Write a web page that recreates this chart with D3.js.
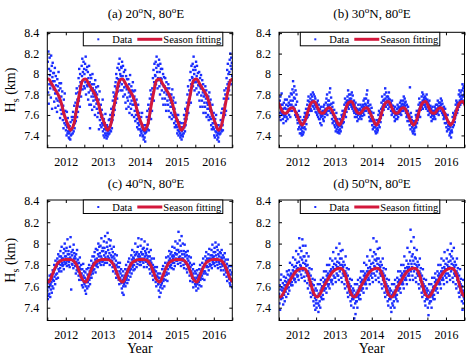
<!DOCTYPE html>
<html>
<head>
<meta charset="utf-8">
<script src="https://cdn.jsdelivr.net/npm/d3@7"></script>
<style>
  html, body { margin: 0; padding: 0; background: #fff; }
  svg { display: block; }
  text { font-family: "Liberation Serif", "Times New Roman", serif; fill: #000; }
</style>
</head>
<body>
<svg id="chart" width="474" height="357"></svg>
<script>
// ---------------- DATA ----------------
// Monthly groups of samples, first group = July 2011, last = June 2016
const startYear = 2011.5;
const xLabelYears = [2012, 2013, 2014, 2015, 2016];
const yTickValues = [7.4, 7.6, 7.8, 8.0, 8.2, 8.4];
const seriesNames = ["Data", "Season fitting"];
const panelTitles = [["(a) 20", "N, 80", "E"], ["(b) 30", "N, 80", "E"], ["(c) 40", "N, 80", "E"], ["(d) 50", "N, 80", "E"]];

// Season fitting, calendar months Jan..Dec (km)
const fitA = [7.52, 7.45, 7.50, 7.66, 7.82, 7.94, 7.95, 7.90, 7.85, 7.80, 7.72, 7.60];
const fitB = [7.55, 7.50, 7.55, 7.65, 7.72, 7.73, 7.67, 7.62, 7.62, 7.66, 7.67, 7.62];
const fitC = [7.85, 7.85, 7.84, 7.80, 7.73, 7.66, 7.64, 7.70, 7.77, 7.82, 7.84, 7.85];
const fitD = [7.76, 7.77, 7.76, 7.70, 7.60, 7.52, 7.50, 7.54, 7.60, 7.65, 7.70, 7.74];

const dataA = [
[7.95,8.12,7.82,8.22,7.71,8.05,7.90,8.16,7.99,7.86],[8.03,7.77,8.18,7.89,8.08,7.66,7.97,8.11,7.93,8.01],[7.85,8.01,7.73,7.93,8.06,7.81,7.67,7.98,7.89,7.76],
[7.81,7.63,7.95,7.74,7.88,7.69,8.02,7.84,7.78,7.91],[7.73,7.57,7.86,7.65,7.91,7.78,7.61,7.70,7.83,7.68],[7.55,7.69,7.47,7.75,7.61,7.52,7.81,7.58,7.64,7.50],
[7.45,7.53,7.40,7.63,7.48,7.42,7.57,7.44,7.50,7.38],[7.42,7.37,7.49,7.44,7.36,7.53,7.40,7.46,7.41,7.58],[7.46,7.55,7.42,7.63,7.50,7.44,7.58,7.69,7.47,7.52],
[7.61,7.72,7.54,7.81,7.66,7.86,7.58,7.75,7.69,7.63],[7.82,7.96,7.74,8.05,7.88,7.68,8.00,7.92,7.85,7.78],[7.91,8.08,7.98,8.15,7.85,8.02,7.94,8.12,7.88,8.05],
[8.00,7.86,8.10,7.92,8.17,7.80,8.04,7.95,7.89,8.07],[7.88,8.02,7.75,7.96,7.82,8.08,7.70,7.92,7.47,7.99],[7.84,7.70,7.96,7.78,7.90,7.65,8.00,7.86,7.81,7.74],
[7.78,7.90,7.68,7.84,7.60,7.94,7.75,7.82,7.87,7.71],[7.66,7.80,7.58,7.72,7.88,7.62,7.75,7.46,7.69,7.83],[7.55,7.62,7.50,7.70,7.58,7.48,7.65,7.52,7.60,7.75],
[7.44,7.50,7.40,7.56,7.46,7.38,7.52,7.42,7.61,7.47],[7.40,7.45,7.37,7.50,7.42,7.39,7.48,7.44,7.41,7.55],[7.48,7.42,7.56,7.45,7.60,7.50,7.44,7.66,7.53,7.47],
[7.62,7.55,7.74,7.68,7.82,7.60,7.78,7.70,7.65,7.88],[7.80,7.92,7.72,8.00,7.86,7.96,7.76,8.06,7.83,7.90],[7.95,8.10,7.88,8.04,8.15,7.92,8.00,7.84,7.98,8.07],
[8.06,7.90,8.12,7.84,7.98,8.08,7.78,7.94,8.02,7.87],[7.92,7.80,8.04,7.72,7.88,7.98,7.66,7.85,7.95,7.77],[7.86,7.74,7.95,7.68,7.82,7.90,7.62,7.78,7.99,7.71],
[7.80,7.66,7.88,7.74,7.60,7.84,7.70,7.92,7.77,7.83],[7.70,7.58,7.78,7.64,7.84,7.54,7.72,7.60,7.67,7.75],[7.56,7.48,7.64,7.52,7.70,7.46,7.58,7.50,7.62,7.54],
[7.46,7.40,7.52,7.44,7.58,7.42,7.48,7.62,7.45,7.39],[7.40,7.46,7.36,7.44,7.50,7.38,7.42,7.34,7.47,7.43],[7.50,7.44,7.58,7.48,7.64,7.46,7.55,7.70,7.52,7.45],
[7.66,7.58,7.76,7.62,7.84,7.70,7.56,7.80,7.73,7.64],[7.86,7.78,7.96,7.82,8.04,7.74,7.92,8.10,7.89,7.99],[7.98,8.12,7.90,8.06,8.17,7.94,8.02,7.86,8.09,7.96],
[8.08,7.94,8.14,7.88,8.02,7.80,8.10,7.96,8.05,7.91],[7.95,7.84,8.05,7.76,7.90,8.00,7.70,7.88,7.97,7.82],[7.88,7.76,7.96,7.70,7.84,7.64,7.92,7.80,7.86,7.74],
[7.82,7.70,7.90,7.64,7.78,7.86,7.58,7.75,7.80,7.68],[7.72,7.62,7.80,7.56,7.68,7.85,7.60,7.74,7.66,7.77],[7.58,7.52,7.66,7.48,7.62,7.72,7.54,7.50,7.60,7.56],
[7.48,7.42,7.55,7.45,7.60,7.40,7.50,7.44,7.53,7.47],[7.42,7.38,7.46,7.40,7.52,7.36,7.44,7.48,7.41,7.39],[7.46,7.52,7.42,7.60,7.48,7.56,7.44,7.66,7.50,7.58],
[7.64,7.56,7.72,7.60,7.80,7.68,7.88,7.62,7.75,7.70],[7.84,7.76,7.94,7.80,8.02,7.72,7.90,8.08,7.87,7.97],[7.96,8.10,7.88,8.04,8.17,7.92,8.00,7.84,8.07,7.95],
[8.04,7.92,8.12,7.86,7.98,8.08,7.80,7.94,8.01,7.89],[7.92,7.82,8.02,7.74,7.88,7.96,7.68,7.86,7.99,7.79],[7.86,7.74,7.94,7.68,7.82,7.90,7.62,7.78,7.84,7.72],
[7.80,7.68,7.88,7.62,7.76,7.84,7.58,7.72,7.79,7.66],[7.70,7.60,7.78,7.55,7.66,7.82,7.58,7.72,7.64,7.75],[7.56,7.50,7.64,7.46,7.60,7.70,7.52,7.48,7.58,7.62],
[7.46,7.40,7.52,7.38,7.56,7.44,7.48,7.60,7.43,7.50],[7.40,7.36,7.45,7.42,7.38,7.50,7.34,7.44,7.41,7.47],[7.48,7.42,7.55,7.46,7.62,7.44,7.52,7.66,7.50,7.45],
[7.66,7.58,7.76,7.62,7.84,7.70,7.60,7.80,7.72,7.64],[7.86,7.96,7.80,8.04,7.90,8.10,7.76,8.00,7.92,7.84],[8.02,8.14,7.94,8.20,8.08,7.90,8.16,8.05,8.11,7.98]
];

const dataB = [
[7.68,7.58,7.74,7.62,7.78,7.55,7.70,7.64,7.81,7.60],[7.62,7.70,7.56,7.66,7.52,7.72,7.60,7.58,7.67,7.75],[7.60,7.66,7.54,7.70,7.58,7.75,7.62,7.56,7.64,7.69],
[7.66,7.72,7.60,7.78,7.64,7.70,7.58,7.74,7.81,7.67],[7.70,7.80,7.64,7.85,7.74,7.93,7.68,7.82,7.77,7.88],[7.66,7.76,7.60,7.84,7.70,7.58,7.80,7.62,7.73,7.55],
[7.52,7.60,7.46,7.56,7.64,7.48,7.54,7.42,7.58,7.50],[7.46,7.42,7.52,7.40,7.48,7.44,7.55,7.41,7.47,7.43],[7.52,7.58,7.48,7.62,7.54,7.46,7.60,7.66,7.51,7.57],
[7.62,7.70,7.58,7.74,7.66,7.78,7.60,7.68,7.73,7.64],[7.70,7.76,7.66,7.80,7.72,7.64,7.78,7.74,7.69,7.82],[7.74,7.68,7.80,7.72,7.66,7.78,7.70,7.76,7.63,7.71],
[7.68,7.62,7.72,7.60,7.66,7.74,7.58,7.64,7.70,7.56],[7.62,7.56,7.66,7.52,7.60,7.68,7.58,7.50,7.63,7.59],[7.60,7.64,7.56,7.68,7.54,7.62,7.70,7.58,7.65,7.61],
[7.66,7.72,7.62,7.76,7.64,7.80,7.60,7.70,7.68,7.74],[7.68,7.74,7.64,7.82,7.70,7.86,7.66,7.62,7.77,7.71],[7.62,7.56,7.68,7.52,7.60,7.72,7.54,7.58,7.65,7.50],
[7.54,7.48,7.58,7.44,7.52,7.62,7.46,7.50,7.56,7.43],[7.48,7.43,7.52,7.45,7.50,7.42,7.56,7.46,7.49,7.44],[7.54,7.50,7.60,7.48,7.58,7.64,7.52,7.56,7.61,7.53],
[7.64,7.70,7.60,7.76,7.66,7.72,7.58,7.68,7.63,7.74],[7.72,7.78,7.68,7.84,7.74,7.66,7.80,7.70,7.76,7.71],[7.74,7.80,7.70,7.76,7.68,7.82,7.72,7.66,7.79,7.73],
[7.68,7.64,7.74,7.62,7.70,7.58,7.66,7.72,7.67,7.61],[7.62,7.58,7.66,7.54,7.64,7.60,7.70,7.56,7.61,7.65],[7.62,7.66,7.58,7.70,7.60,7.64,7.56,7.68,7.63,7.59],
[7.66,7.70,7.62,7.74,7.68,7.60,7.76,7.64,7.71,7.67],[7.70,7.76,7.64,7.80,7.68,7.84,7.66,7.72,7.74,7.69],[7.62,7.58,7.66,7.54,7.64,7.70,7.56,7.60,7.63,7.67],
[7.54,7.50,7.58,7.46,7.56,7.62,7.48,7.52,7.55,7.51],[7.48,7.44,7.52,7.42,7.50,7.46,7.55,7.43,7.47,7.45],[7.54,7.60,7.50,7.64,7.56,7.48,7.62,7.58,7.53,7.57],
[7.66,7.72,7.62,7.78,7.68,7.60,7.74,7.70,7.65,7.75],[7.74,7.80,7.70,7.86,7.76,7.68,7.82,7.72,7.78,7.73],[7.74,7.70,7.78,7.66,7.76,7.82,7.72,7.68,7.75,7.71],
[7.68,7.72,7.64,7.70,7.60,7.74,7.66,7.62,7.69,7.65],[7.62,7.66,7.58,7.64,7.54,7.68,7.60,7.56,7.61,7.63],[7.60,7.66,7.56,7.70,7.62,7.58,7.68,7.64,7.61,7.67],
[7.66,7.72,7.62,7.68,7.74,7.60,7.70,7.64,7.67,7.71],[7.68,7.74,7.64,7.78,7.70,7.66,7.76,7.72,7.69,7.73],[7.62,7.66,7.58,7.70,7.60,7.54,7.64,7.68,7.61,7.57],
[7.54,7.60,7.50,7.87,7.56,7.46,7.62,7.52,7.58,7.55],[7.48,7.44,7.52,7.42,7.50,7.46,7.54,7.44,7.47,7.41],[7.54,7.50,7.60,7.48,7.58,7.64,7.52,7.56,7.55,7.61],
[7.64,7.70,7.60,7.76,7.66,7.72,7.58,7.68,7.65,7.71],[7.72,7.78,7.68,7.82,7.74,7.66,7.80,7.70,7.75,7.77],[7.74,7.70,7.78,7.68,7.76,7.72,7.66,7.80,7.73,7.75],
[7.68,7.64,7.72,7.60,7.70,7.66,7.74,7.62,7.67,7.69],[7.62,7.58,7.66,7.54,7.64,7.60,7.68,7.56,7.63,7.59],[7.60,7.64,7.58,7.68,7.62,7.56,7.66,7.70,7.61,7.65],
[7.66,7.70,7.62,7.74,7.64,7.68,7.60,7.72,7.67,7.69],[7.68,7.72,7.64,7.76,7.70,7.66,7.74,7.62,7.71,7.67],[7.60,7.64,7.56,7.68,7.58,7.62,7.52,7.66,7.61,7.57],
[7.52,7.48,7.56,7.44,7.54,7.60,7.46,7.50,7.53,7.49],[7.46,7.40,7.50,7.42,7.48,7.44,7.38,7.52,7.45,7.43],[7.52,7.58,7.48,7.62,7.54,7.50,7.60,7.56,7.53,7.57],
[7.64,7.70,7.60,7.74,7.66,7.72,7.62,7.68,7.65,7.71],[7.72,7.80,7.68,7.84,7.74,7.78,7.70,7.82,7.75,7.79],[7.76,7.84,7.72,7.90,7.78,7.86,7.74,7.88,7.80,7.83]
];

const dataC = [
[7.56,7.48,7.63,7.51,7.66,7.59,7.53,7.70,7.61,7.50],[7.62,7.57,7.71,7.64,7.54,7.68,7.60,7.75,7.66,7.58],[7.73,7.65,7.80,7.69,7.76,7.62,7.84,7.71,7.78,7.67],
[7.79,7.72,7.86,7.83,7.68,7.90,7.76,7.81,7.74,7.88],[7.84,7.77,7.93,7.80,7.88,7.74,7.97,7.86,7.82,7.79],[7.86,7.80,7.91,7.76,7.95,7.83,8.00,7.88,7.81,7.93],
[7.88,7.82,7.96,7.79,7.84,8.04,7.90,7.86,7.93,7.80],[7.83,7.90,7.78,7.97,7.87,8.06,7.85,7.57,7.92,7.81],[7.89,7.80,7.94,7.84,7.77,7.99,7.86,7.91,7.82,7.88],
[7.79,7.86,7.72,7.90,7.83,7.75,7.94,7.81,7.77,7.85],[7.74,7.70,7.82,7.66,7.78,7.87,7.72,7.76,7.69,7.80],[7.66,7.72,7.61,7.76,7.68,7.59,7.81,7.70,7.64,7.74],
[7.62,7.68,7.56,7.73,7.60,7.53,7.66,7.76,7.64,7.58],[7.71,7.64,7.77,7.60,7.69,7.80,7.66,7.74,7.62,7.68],[7.77,7.71,7.84,7.68,7.79,7.74,7.88,7.72,7.81,7.75],
[7.82,7.88,7.76,7.92,7.80,7.85,7.73,7.95,7.83,7.79],[7.86,7.81,7.94,7.78,7.90,8.00,7.84,7.88,7.97,7.82],[7.91,7.84,7.98,7.80,7.88,8.05,7.86,7.93,7.83,7.96],
[7.84,7.93,7.80,8.02,7.89,7.96,7.82,8.07,7.87,7.91],[7.92,7.85,8.01,7.82,7.97,8.10,7.88,7.94,7.86,8.04],[7.86,7.91,7.80,7.98,7.84,8.03,7.89,7.83,7.95,7.87],
[7.84,7.78,7.92,7.74,7.88,7.97,7.81,7.86,7.79,7.90],[7.76,7.72,7.84,7.68,7.80,7.89,7.74,7.78,7.71,7.82],[7.70,7.66,7.78,7.62,7.74,7.82,7.68,7.72,7.65,7.76],
[7.63,7.58,7.70,7.54,7.66,7.74,7.60,7.52,7.68,7.62],[7.70,7.64,7.76,7.60,7.72,7.80,7.66,7.68,7.74,7.63],[7.76,7.70,7.83,7.66,7.78,7.86,7.73,7.75,7.80,7.69],
[7.82,7.76,7.89,7.72,7.85,7.94,7.78,7.80,7.87,7.75],[7.86,7.80,7.92,7.76,7.89,8.00,7.83,7.84,7.90,7.78],[7.85,7.92,7.81,7.97,7.88,8.05,7.84,7.90,7.86,7.80],
[7.88,7.83,7.98,7.80,7.92,8.04,7.86,7.90,7.84,7.95],[7.90,7.82,7.96,7.78,7.86,8.02,7.88,7.93,7.84,7.91],[7.83,7.89,7.78,7.95,7.86,7.99,7.81,7.88,7.84,7.92],
[7.80,7.76,7.88,7.72,7.84,7.94,7.78,7.82,7.86,7.74],[7.74,7.70,7.80,7.66,7.77,7.86,7.72,7.75,7.78,7.68],[7.68,7.64,7.74,7.60,7.70,7.78,7.66,7.69,7.72,7.62],
[7.62,7.56,7.68,7.50,7.65,7.72,7.59,7.54,7.66,7.61],[7.68,7.63,7.76,7.58,7.71,7.79,7.65,7.67,7.73,7.60],[7.76,7.70,7.82,7.66,7.78,7.87,7.73,7.71,7.80,7.65],
[7.82,7.76,7.88,7.72,7.84,7.93,7.79,7.86,7.78,7.90],[7.84,7.80,7.92,7.77,7.88,7.97,7.82,7.86,7.89,7.76],[7.88,7.82,7.96,7.79,7.91,8.02,7.86,7.90,7.84,7.94],
[7.90,7.84,8.00,7.81,7.94,8.11,7.87,7.92,7.85,8.03],[7.88,7.82,7.98,7.79,7.93,8.07,7.86,7.90,7.84,8.00],[7.86,7.80,7.93,7.77,7.90,7.99,7.83,7.88,7.81,7.92],
[7.82,7.76,7.89,7.73,7.86,7.93,7.78,7.84,7.80,7.88],[7.76,7.70,7.82,7.65,7.78,7.87,7.72,7.74,7.80,7.68],[7.70,7.64,7.76,7.59,7.72,7.81,7.66,7.68,7.74,7.62],
[7.66,7.60,7.72,7.56,7.68,7.75,7.62,7.64,7.70,7.58],[7.70,7.64,7.76,7.61,7.72,7.80,7.66,7.68,7.74,7.60],[7.76,7.70,7.82,7.67,7.78,7.86,7.72,7.74,7.80,7.66],
[7.80,7.74,7.88,7.72,7.84,7.92,7.78,7.79,7.86,7.71],[7.84,7.78,7.90,7.75,7.86,7.95,7.81,7.85,7.79,7.89],[7.86,7.80,7.94,7.77,7.89,7.99,7.83,7.87,7.81,7.92],
[7.88,7.82,7.96,7.79,7.92,8.01,7.85,7.89,7.83,7.97],[7.86,7.80,7.94,7.77,7.90,7.99,7.83,7.88,7.81,7.92],[7.84,7.78,7.91,7.75,7.87,7.94,7.81,7.86,7.79,7.89],
[7.81,7.75,7.87,7.71,7.83,7.91,7.77,7.79,7.85,7.73],[7.75,7.69,7.81,7.65,7.77,7.85,7.71,7.73,7.79,7.67],[7.69,7.63,7.75,7.61,7.71,7.79,7.65,7.67,7.73,7.59]
];

const dataD = [
[7.53,7.44,7.61,7.38,7.57,7.66,7.48,7.71,7.50,7.59],[7.56,7.49,7.63,7.43,7.58,7.69,7.52,7.61,7.46,7.65],[7.61,7.55,7.68,7.50,7.64,7.74,7.58,7.62,7.71,7.53],
[7.66,7.59,7.75,7.56,7.70,7.82,7.63,7.68,7.72,7.61],[7.71,7.64,7.80,7.61,7.75,7.87,7.68,7.73,7.78,7.66],[7.74,7.67,7.85,7.64,7.79,7.93,7.71,7.76,7.82,7.69],
[7.77,7.70,7.90,7.66,7.83,8.05,7.74,7.96,7.80,7.87],[7.79,7.71,7.93,7.68,7.85,8.04,7.75,7.98,7.82,7.88],[7.76,7.69,7.88,7.65,7.81,7.98,7.73,7.84,7.79,7.91],
[7.70,7.63,7.80,7.58,7.74,7.88,7.66,7.72,7.77,7.61],[7.61,7.54,7.70,7.50,7.64,7.76,7.57,7.62,7.67,7.53],[7.52,7.46,7.61,7.42,7.56,7.66,7.49,7.38,7.58,7.44],
[7.47,7.40,7.56,7.27,7.51,7.62,7.44,7.36,7.53,7.42],[7.53,7.46,7.62,7.40,7.56,7.66,7.50,7.58,7.48,7.60],[7.60,7.52,7.68,7.48,7.64,7.74,7.56,7.62,7.58,7.66],
[7.66,7.58,7.74,7.54,7.70,7.80,7.62,7.68,7.72,7.60],[7.70,7.62,7.80,7.58,7.74,7.86,7.66,7.72,7.76,7.64],[7.74,7.66,7.84,7.62,7.78,7.92,7.70,7.76,7.81,7.68],
[7.76,7.68,7.86,7.64,7.80,7.96,7.72,7.78,7.83,7.70],[7.78,7.70,7.90,7.66,7.82,8.00,7.74,7.86,7.80,7.93],[7.76,7.68,7.86,7.64,7.80,7.94,7.72,7.78,7.83,7.70],
[7.70,7.62,7.80,7.58,7.74,7.88,7.66,7.72,7.68,7.77],[7.60,7.54,7.70,7.50,7.64,7.76,7.56,7.62,7.58,7.67],[7.52,7.46,7.60,7.42,7.56,7.66,7.48,7.54,7.50,7.58],
[7.48,7.40,7.56,7.30,7.52,7.62,7.44,7.34,7.50,7.46],[7.54,7.46,7.62,7.40,7.56,7.66,7.50,7.52,7.58,7.48],[7.60,7.52,7.68,7.48,7.64,7.74,7.56,7.62,7.66,7.58],
[7.66,7.58,7.74,7.54,7.70,7.82,7.62,7.68,7.72,7.64],[7.70,7.62,7.80,7.58,7.74,7.88,7.66,7.72,7.77,7.68],[7.74,7.66,7.84,7.62,7.78,7.94,7.70,7.76,7.81,7.72],
[7.76,7.68,7.88,7.64,7.82,8.05,7.72,7.92,7.79,7.85],[7.78,7.70,7.90,7.66,7.84,8.02,7.74,7.86,7.81,7.95],[7.76,7.68,7.86,7.64,7.80,7.96,7.72,7.78,7.83,7.70],
[7.70,7.62,7.80,7.58,7.74,7.86,7.66,7.72,7.77,7.68],[7.60,7.54,7.70,7.50,7.64,7.76,7.56,7.62,7.67,7.58],[7.52,7.46,7.60,7.42,7.56,7.66,7.48,7.54,7.58,7.50],
[7.48,7.40,7.56,7.36,7.52,7.62,7.44,7.50,7.42,7.54],[7.54,7.46,7.62,7.40,7.56,7.66,7.50,7.52,7.59,7.48],[7.60,7.52,7.68,7.46,7.64,7.74,7.56,7.62,7.66,7.58],
[7.66,7.58,7.74,7.54,7.70,7.80,7.62,7.68,7.72,7.64],[7.70,7.62,7.80,7.58,7.74,7.88,7.66,7.72,7.77,7.68],[7.74,7.66,7.84,7.62,7.78,7.96,7.70,7.76,7.81,7.72],
[7.78,7.70,7.92,7.66,7.84,8.13,7.74,8.02,7.81,7.88],[7.78,7.70,7.90,7.66,7.84,8.06,7.74,7.96,7.81,7.87],[7.76,7.68,7.86,7.64,7.80,7.94,7.72,7.78,7.83,7.70],
[7.70,7.62,7.80,7.58,7.74,7.86,7.66,7.72,7.77,7.68],[7.60,7.54,7.70,7.50,7.64,7.76,7.56,7.62,7.67,7.58],[7.52,7.46,7.60,7.42,7.56,7.66,7.48,7.54,7.58,7.50],
[7.48,7.40,7.56,7.33,7.52,7.62,7.44,7.50,7.46,7.54],[7.54,7.46,7.62,7.40,7.56,7.68,7.50,7.52,7.59,7.48],[7.60,7.52,7.68,7.48,7.64,7.72,7.56,7.62,7.66,7.58],
[7.66,7.58,7.74,7.54,7.70,7.80,7.62,7.68,7.72,7.64],[7.70,7.62,7.80,7.58,7.74,7.86,7.66,7.72,7.77,7.68],[7.74,7.66,7.84,7.62,7.78,7.92,7.70,7.76,7.81,7.72],
[7.76,7.68,7.86,7.64,7.80,7.94,7.72,7.78,7.83,7.70],[7.78,7.70,7.90,7.66,7.84,8.00,7.74,7.88,7.81,7.93],[7.76,7.68,7.86,7.64,7.80,7.96,7.72,7.78,7.83,7.70],
[7.70,7.62,7.80,7.58,7.74,7.86,7.66,7.72,7.77,7.68],[7.60,7.54,7.70,7.50,7.64,7.76,7.56,7.62,7.67,7.58],[7.52,7.46,7.60,7.38,7.56,7.66,7.44,7.50,7.54,7.48]
];

// ---------------- LAYOUT ----------------
const panels = [
  { data: dataA, fit: fitA, title: panelTitles[0], L: 47.3, R: 232.3, T: 32.3, B: 147.7, titleX: 146, titleY: 17.5, legX: 83.3, yLabel: true,  xLabel: false },
  { data: dataB, fit: fitB, title: panelTitles[1], L: 279,  R: 464.5, T: 32.3, B: 147.7, titleX: 372, titleY: 17.5, legX: 300.3, yLabel: false, xLabel: false },
  { data: dataC, fit: fitC, title: panelTitles[2], L: 47.3, R: 232.3, T: 200,  B: 320.5, titleX: 146, titleY: 188,  legX: 83.3, yLabel: true,  xLabel: true },
  { data: dataD, fit: fitD, title: panelTitles[3], L: 279,  R: 464.5, T: 200,  B: 320.5, titleX: 372, titleY: 188,  legX: 300.3, yLabel: false, xLabel: true }
];

const BLUE = "#1a2dff";
const RED = "#d3173b";
const svg = d3.select("#chart");
svg.append("rect").attr("width", 474).attr("height", 357).attr("fill", "#fff");

const fmtY = v => String(+v.toFixed(1));
const halfYearTicks = d3.range(0, 11).map(i => startYear + i * 0.5);
const isLabelYear = d => xLabelYears.some(yv => Math.abs(yv - d) < 1e-6);

panels.forEach((p, pi) => {
  const x = d3.scaleLinear().domain([2011.5, 2016.5]).range([p.L, p.R]);
  const y = d3.scaleLinear().domain([7.28, 8.408]).range([p.B, p.T]);
  const clipId = "clip" + pi;
  svg.append("clipPath").attr("id", clipId)
    .append("rect").attr("x", p.L).attr("y", p.T).attr("width", p.R - p.L).attr("height", p.B - p.T);

  // Data points
  const pts = [];
  p.data.forEach((grp, m) => {
    grp.forEach((v, i) => {
      pts.push({ t: startYear + (m + (i + 0.5) / grp.length) / 12, v: v });
    });
  });
  svg.append("g").attr("clip-path", `url(#${clipId})`)
    .selectAll("rect").data(pts).enter().append("rect")
    .attr("x", d => x(d.t) - 1.2).attr("y", d => y(d.v) - 1.2)
    .attr("width", 2.4).attr("height", 2.4).attr("fill", BLUE);

  // Season fitting line
  const fitPts = [];
  for (let yr = 2011; yr <= 2016; yr++) {
    p.fit.forEach((v, k) => {
      const t = yr + (k + 0.5) / 12;
      if (t > 2011.3 && t < 2016.7) fitPts.push({ t, v });
    });
  }
  const line = d3.line().x(d => x(d.t)).y(d => y(d.v)).curve(d3.curveCatmullRom.alpha(0.5));
  svg.append("path").attr("clip-path", `url(#${clipId})`)
    .datum(fitPts).attr("d", line)
    .attr("fill", "none").attr("stroke", RED).attr("stroke-width", 3).attr("stroke-linejoin", "round");

  // Axes (ticks inward, box on)
  const axB = d3.axisBottom(x).tickValues(halfYearTicks).tickSizeInner(-3).tickSizeOuter(0).tickPadding(10)
    .tickFormat(d => (isLabelYear(d) ? String(Math.round(d)) : ""));
  const gB = svg.append("g").attr("transform", `translate(0,${p.B})`).call(axB);
  const axT = d3.axisTop(x).tickValues(halfYearTicks).tickSizeInner(-3).tickSizeOuter(0).tickFormat("");
  const gT = svg.append("g").attr("transform", `translate(0,${p.T})`).call(axT);
  const axL = d3.axisLeft(y).tickValues(yTickValues).tickSizeInner(-3).tickSizeOuter(0).tickPadding(8).tickFormat(fmtY);
  const gL = svg.append("g").attr("transform", `translate(${p.L},0)`).call(axL);
  const axR = d3.axisRight(y).tickValues(yTickValues).tickSizeInner(-3).tickSizeOuter(0).tickFormat("");
  const gR = svg.append("g").attr("transform", `translate(${p.R},0)`).call(axR);
  [gB, gT, gL, gR].forEach(g => {
    g.select(".domain").remove();
    g.selectAll("line").attr("stroke", "#000").attr("stroke-width", 1);
    g.selectAll("text").attr("font-family", "Liberation Serif, serif").attr("font-size", 12).attr("fill", "#000");
  });

  // Box
  svg.append("rect").attr("x", p.L).attr("y", p.T).attr("width", p.R - p.L).attr("height", p.B - p.T)
    .attr("fill", "none").attr("stroke", "#000").attr("stroke-width", 1);

  // Legend
  const lg = svg.append("g").attr("transform", `translate(${p.legX},${p.T})`);
  lg.append("rect").attr("x", 0).attr("y", 0).attr("width", 139.5).attr("height", 13.5)
    .attr("fill", "#fff").attr("stroke", "#000").attr("stroke-width", 1);
  lg.append("rect").attr("x", 14).attr("y", 6).attr("width", 2).attr("height", 2).attr("fill", BLUE);
  lg.append("text").attr("x", 29).attr("y", 10.5).attr("font-size", 10.5).text(seriesNames[0]);
  lg.append("line").attr("x1", 54).attr("x2", 79).attr("y1", 7).attr("y2", 7)
    .attr("stroke", RED).attr("stroke-width", 3);
  lg.append("text").attr("x", 80).attr("y", 10.5).attr("font-size", 10.5).text(seriesNames[1]);

  // Title with superscript degree marks
  const tt = svg.append("text").attr("x", p.titleX).attr("y", p.titleY)
    .attr("text-anchor", "middle").attr("font-size", 13);
  tt.append("tspan").text(p.title[0]);
  tt.append("tspan").attr("font-size", 9).attr("dy", -5).text("o");
  tt.append("tspan").attr("dy", 5).text(p.title[1]);
  tt.append("tspan").attr("font-size", 9).attr("dy", -5).text("o");
  tt.append("tspan").attr("dy", 5).text(p.title[2]);

  // Y label
  if (p.yLabel) {
    const cy = (p.T + p.B) / 2;
    const yl = svg.append("text").attr("transform", `translate(15,${cy}) rotate(-90)`)
      .attr("text-anchor", "middle").attr("font-size", 14);
    yl.append("tspan").text("H");
    yl.append("tspan").attr("font-size", 10).attr("dy", 4).text("s");
    yl.append("tspan").attr("dy", -4).text(" (km)");
  }
  // X label
  if (p.xLabel) {
    svg.append("text").attr("x", (p.L + p.R) / 2).attr("y", 353)
      .attr("text-anchor", "middle").attr("font-size", 14).text("Year");
  }
});
</script>
</body>
</html>
